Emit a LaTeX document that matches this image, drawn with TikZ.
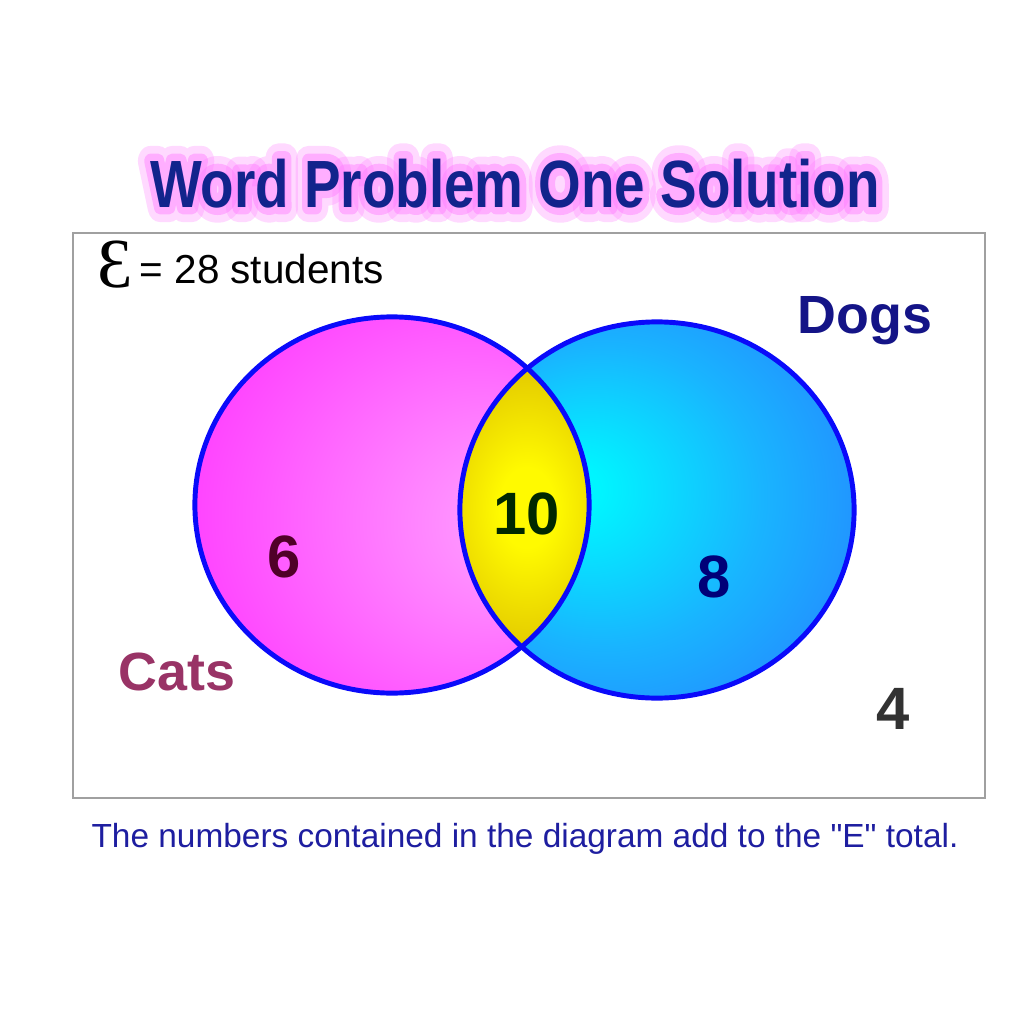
\documentclass[tikz,border=0pt]{standalone}
\usepackage{fontspec}
\setmainfont{Liberation Sans}
\newfontfamily\epsfont{Liberation Serif}
\newfontfamily\glowfont[FakeBold=45]{Liberation Sans}
\newfontfamily\haloFont[FakeBold=22]{Liberation Sans}
\newfontfamily\notefont[Ligatures=TeXOff]{Liberation Sans}
\usepackage{xcolor}

\definecolor{framegray}{RGB}{160,160,160}
\definecolor{ringblue}{RGB}{10,10,250}
\definecolor{titleblue}{RGB}{18,36,140}
\definecolor{glowpink}{RGB}{255,130,255}
\definecolor{dogblue}{RGB}{20,20,135}
\definecolor{catrose}{RGB}{153,51,102}
\definecolor{sixred}{RGB}{80,0,40}
\definecolor{tengreen}{RGB}{0,40,0}
\definecolor{eightblue}{RGB}{0,0,120}
\definecolor{fourgray}{RGB}{50,50,50}
\definecolor{noteblue}{RGB}{30,30,160}
\definecolor{catlight}{RGB}{255,150,255}
\definecolor{catdark}{RGB}{255,0,255}
\definecolor{doglight}{RGB}{0,245,255}
\definecolor{dogmid}{RGB}{25,180,255}
\definecolor{dogdark}{RGB}{50,85,255}
\definecolor{lensyellow}{RGB}{255,250,0}
\definecolor{lensgold}{RGB}{200,155,0}

\pgfdeclareradialshading{catshade}{\pgfpoint{17bp}{-3bp}}{color(0bp)=(catlight); color(5bp)=(catlight); color(55bp)=(catdark)}
\pgfdeclareradialshading{dogshade}{\pgfpoint{-11bp}{3bp}}{color(0bp)=(doglight); color(3bp)=(doglight); color(20bp)=(dogmid); color(51bp)=(dogdark)}
\pgfdeclareradialshading{lensshade}{\pgfpoint{0bp}{0bp}}{color(0bp)=(lensyellow); color(7bp)=(lensyellow); color(42bp)=(lensgold); color(72bp)=(lensgold)}

\tikzset{
  ring/.style={draw=ringblue, line width=1.4pt},
  titletext/.style={anchor=base, inner sep=0pt},
  setname/.style={font=\fontsize{15.3}{18}\selectfont\bfseries, anchor=base west, inner sep=0pt},
  count/.style={font=\fontsize{17}{20}\selectfont\bfseries, anchor=base, inner sep=0pt},
}

\begin{document}
\begin{tikzpicture}[x=0.01cm, y=-0.01cm]
    \useasboundingbox (0,0) rectangle (1024,1024);

    % title with its pink glow
    \begin{scope}[line join=round, line cap=round]
        \node[titletext, text=glowpink, opacity=.3] (glow) at (515,207) {\glowfont\fontsize{19}{22}\selectfont\bfseries\scalebox{0.82}[1]{Word Problem One Solution}};
        \node[titletext, text=glowpink, opacity=.5] (halo) at (515,207) {\haloFont\fontsize{19}{22}\selectfont\bfseries\scalebox{0.82}[1]{Word Problem One Solution}};
    \end{scope}
    \node[titletext, text=titleblue] (title) at (515,207) {\fontsize{19}{22}\selectfont\bfseries\scalebox{0.82}[1]{Word Problem One Solution}};

    % universal set frame
    \draw[framegray, line width=0.7pt] (73,233) rectangle (985,798);
    \node[font=\epsfont\fontsize{20}{22}\selectfont, anchor=base west, inner sep=0pt] (eps) at (97,287) {Ɛ};
    \node[font=\fontsize{11.5}{13}\selectfont, anchor=base west, inner sep=0pt] (total) at (139,283) {= 28 students};

    % the two sets
    \fill[shading=catshade] (392,505) ellipse [x radius=1.97cm, y radius=1.88cm];
    \fill[shading=dogshade] (657,510) ellipse [x radius=1.97cm, y radius=1.88cm];
    \begin{scope}
        \clip (392,505) ellipse [x radius=1.97cm, y radius=1.88cm];
        \clip (657,510) ellipse [x radius=1.97cm, y radius=1.88cm];
        \fill[shading=lensshade] (428,365) rectangle (626,650);
    \end{scope}
    \draw[ring] (392,505) ellipse [x radius=1.97cm, y radius=1.88cm];
    \draw[ring] (657,510) ellipse [x radius=1.97cm, y radius=1.88cm];

    \node[setname, text=dogblue] (dogs) at (797,333) {Dogs};
    \node[setname, text=catrose] (cats) at (118,690) {Cats};

    \node[count, text=sixred] (six) at (284,577) {6};
    \node[count, text=tengreen] (ten) at (527,534) {10};
    \node[count, text=eightblue] (eight) at (714,597) {8};
    \node[count, text=fourgray] (four) at (893,729) {4};

    \node[font=\notefont\fontsize{9.5}{11}\selectfont, text=noteblue, anchor=base, inner sep=0pt] (note) at (525,847) {The numbers contained in the diagram add to the "E" total.};
\end{tikzpicture}
\end{document}
